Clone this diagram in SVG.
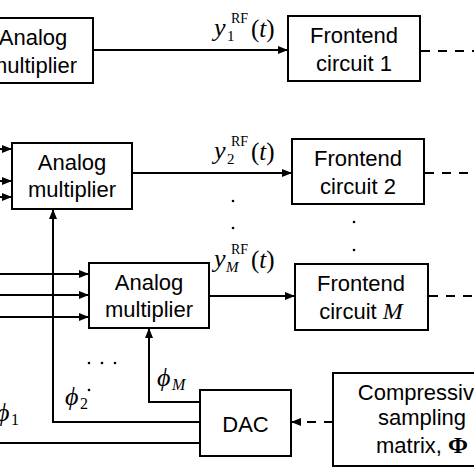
<svg xmlns="http://www.w3.org/2000/svg" width="474" height="474" viewBox="0 0 474 474">
<style>
.box{fill:#fff;stroke:#000;stroke-width:2}
.t{font-family:"Liberation Sans",Arial,sans-serif;font-size:22px;fill:#000;text-anchor:middle}
.m{font-family:"Liberation Serif","Times New Roman",serif;font-style:italic;fill:#000}
.r{font-family:"Liberation Serif","Times New Roman",serif;fill:#000}
.ln{stroke:#000;stroke-width:2;fill:none}
.ds{stroke:#000;stroke-width:2;fill:none;stroke-dasharray:9 8}
.dot{fill:#000}
</style>
<defs>
<marker id="ah" markerWidth="10" markerHeight="8" refX="9" refY="4" orient="auto" markerUnits="userSpaceOnUse">
<path d="M0,0 L10,4 L0,8 z" fill="#000"/>
</marker>
</defs>
<rect width="474" height="474" fill="#fff"/>
<g id="connectors">
<line class="ln" x1="93" y1="50" x2="287" y2="50" marker-end="url(#ah)"/>
<line class="ds" x1="421" y1="51" x2="474" y2="51"/>
<line class="ln" x1="0" y1="149" x2="11" y2="149" marker-end="url(#ah)"/>
<line class="ln" x1="0" y1="181" x2="11" y2="181" marker-end="url(#ah)"/>
<line class="ln" x1="0" y1="197" x2="11" y2="197" marker-end="url(#ah)"/>
<line class="ln" x1="132" y1="173" x2="291" y2="173" marker-end="url(#ah)"/>
<line class="ds" x1="425" y1="173" x2="474" y2="173"/>
<line class="ln" x1="0" y1="274" x2="88" y2="274" marker-end="url(#ah)"/>
<line class="ln" x1="0" y1="295" x2="88" y2="295" marker-end="url(#ah)"/>
<line class="ln" x1="0" y1="317" x2="88" y2="317" marker-end="url(#ah)"/>
<line class="ln" x1="209" y1="296" x2="294" y2="296" marker-end="url(#ah)"/>
<line class="ds" x1="429" y1="296" x2="474" y2="296"/>
<polyline class="ln" points="200,422 53,422 53,210" marker-end="url(#ah)"/>
<polyline class="ln" points="200,402 149,402 149,329" marker-end="url(#ah)"/>
<line class="ln" x1="0" y1="443" x2="200" y2="443"/>
<line class="ds" x1="333" y1="422" x2="300" y2="422"/>
<line class="ln" x1="300" y1="422" x2="292" y2="422" marker-end="url(#ah)"/>
</g>
<g id="mult1">
<rect class="box" x="-27" y="18" width="120" height="65"/>
<text class="t" x="33" y="45">Analog</text>
<text class="t" x="33" y="73">multiplier</text>
</g>
<g id="mult2">
<rect class="box" x="12" y="143" width="120" height="66"/>
<text class="t" x="72" y="170">Analog</text>
<text class="t" x="72" y="197">multiplier</text>
</g>
<g id="multM">
<rect class="box" x="89" y="263" width="120" height="65"/>
<text class="t" x="149" y="290">Analog</text>
<text class="t" x="149" y="317">multiplier</text>
</g>
<g id="fe1">
<rect class="box" x="288" y="16" width="132" height="65"/>
<text class="t" x="354" y="43">Frontend</text>
<text class="t" x="354" y="71">circuit 1</text>
</g>
<g id="fe2">
<rect class="box" x="292" y="139" width="132" height="65"/>
<text class="t" x="358" y="166">Frontend</text>
<text class="t" x="358" y="194">circuit 2</text>
</g>
<g id="feM">
<rect class="box" x="295" y="264" width="133" height="66"/>
<text class="t" x="361" y="291">Frontend</text>
<text class="t" x="361" y="319">circuit <tspan class="m" font-size="24">M</tspan></text>
</g>
<g id="dac">
<rect class="box" x="200" y="390" width="91" height="66"/>
<text class="t" x="245.5" y="432">DAC</text>
</g>
<g id="csm">
<rect class="box" x="333" y="373" width="180" height="93"/>
<text class="t" x="422" y="400">Compressive</text>
<text class="t" x="422" y="425">sampling</text>
<text class="t" x="422" y="453">matrix, <tspan style="font-family:'Liberation Serif',serif;font-weight:bold" font-size="24">Φ</tspan></text>
</g>
<g id="labels">
<text><tspan class="m" font-size="26" x="214" y="36">y</tspan><tspan class="r" font-size="15" x="227" y="41">1</tspan><tspan class="r" font-size="14" x="231" y="23">RF</tspan><tspan class="r" font-size="25" x="251" y="37">(</tspan><tspan class="m" font-size="25">t</tspan><tspan class="r" font-size="25">)</tspan></text>
<text><tspan class="m" font-size="26" x="214" y="159">y</tspan><tspan class="r" font-size="15" x="227" y="164">2</tspan><tspan class="r" font-size="14" x="231" y="146">RF</tspan><tspan class="r" font-size="25" x="251" y="160">(</tspan><tspan class="m" font-size="25">t</tspan><tspan class="r" font-size="25">)</tspan></text>
<text><tspan class="m" font-size="26" x="214" y="267">y</tspan><tspan class="m" font-size="15" x="226" y="272">M</tspan><tspan class="r" font-size="14" x="231" y="254">RF</tspan><tspan class="r" font-size="25" x="251" y="268">(</tspan><tspan class="m" font-size="25">t</tspan><tspan class="r" font-size="25">)</tspan></text>
<text><tspan class="m" font-size="26" x="157" y="386">ϕ</tspan><tspan class="m" font-size="16" x="172" y="390">M</tspan></text>
<text><tspan class="m" font-size="26" x="65" y="405">ϕ</tspan><tspan class="r" font-size="16" x="80" y="409">2</tspan></text>
<text><tspan class="m" font-size="26" x="-4" y="421">ϕ</tspan><tspan class="r" font-size="16" x="11" y="425">1</tspan></text>
</g>
<g id="ellipsis">
<circle class="dot" cx="233" cy="201" r="1.3"/>
<circle class="dot" cx="233" cy="228" r="1.3"/>
<circle class="dot" cx="354" cy="222" r="1.3"/>
<circle class="dot" cx="354" cy="250" r="1.3"/>
<circle class="dot" cx="89" cy="363" r="1.3"/>
<circle class="dot" cx="102" cy="363" r="1.3"/>
<circle class="dot" cx="115" cy="363" r="1.3"/>
<circle class="dot" cx="89" cy="390" r="1.3"/>
</g>
</svg>
